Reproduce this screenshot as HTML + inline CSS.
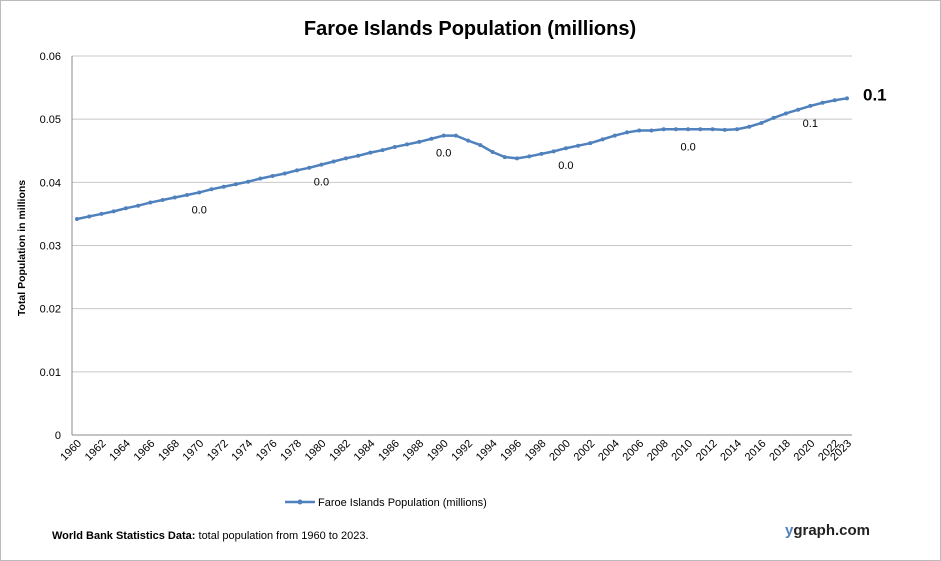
<!DOCTYPE html>
<html><head><meta charset="utf-8"><style>
body{margin:0;background:#fff;font-family:"Liberation Sans",sans-serif}
svg{display:block}
</style></head><body>
<svg width="941" height="561" xmlns="http://www.w3.org/2000/svg">
<rect x="0.5" y="0.5" width="940" height="560" fill="#fff" stroke="#bbb"/>
<text x="470" y="35" text-anchor="middle" font-size="20" font-weight="bold" fill="#000">Faroe Islands Population (millions)</text>
<g id="grid"></g>
<g id="axes"></g>
<text transform="translate(25,248) rotate(-90)" text-anchor="middle" font-size="10.5" font-weight="bold">Total Population  in millions</text>
<g id="series"></g>
<g>
<line x1="285" y1="502" x2="315" y2="502" stroke="#4f81bd" stroke-width="2.5"/>
<circle cx="300" cy="502" r="2.5" fill="#4f81bd"/>
<text x="318" y="506" font-size="11">Faroe Islands Population (millions)</text>
</g>
<text x="52" y="539" font-size="11"><tspan font-weight="bold">World Bank Statistics Data:</tspan> total population from 1960 to 2023.</text>
<text x="785" y="535" font-size="15" font-weight="bold" fill="#222"><tspan fill="#4f81bd">y</tspan>graph.com</text>
</svg>
<script>
const years=[];for(let y=1960;y<=2023;y++)years.push(y);
const values=[.0342,.0346,.0350,.0354,.0359,.0363,.0368,.0372,.0376,.0380,
.0384,.0389,.0393,.0397,.0401,.0406,.0410,.0414,.0419,.0423,
.0428,.0433,.0438,.0442,.0447,.0451,.0456,.0460,.0464,.0469,
.0474,.0474,.0466,.0459,.0448,.0440,.0438,.0441,.0445,.0449,
.0454,.0458,.0462,.0468,.0474,.0479,.0482,.0482,.0484,.0484,
.0484,.0484,.0484,.0483,.0484,.0488,.0494,.0502,.0509,.0515,
.0521,.0526,.0530,.0533];
const yTicks=[0,0.01,0.02,0.03,0.04,0.05,0.06];
const yTickLabels=["0","0.01","0.02","0.03","0.04","0.05","0.06"];
const labelYears=[1970,1980,1990,2000,2010,2020];
const labelTexts=["0.0","0.0","0.0","0.0","0.0","0.1"];
const NS="http://www.w3.org/2000/svg";
const L=72,R=852,T=56,B=435;
const xs=y=>L+5+(y-1960)*(R-L-10)/63;
const ys=v=>B-(v/0.06)*(B-T);
function mk(t,a,p){const e=document.createElementNS(NS,t);for(const k in a)e.setAttribute(k,a[k]);p.appendChild(e);return e;}
const grid=document.getElementById('grid'),axes=document.getElementById('axes'),ser=document.getElementById('series');
yTicks.forEach((v,i)=>{
 const l=mk('line',{x1:L,x2:R,y1:ys(v),y2:ys(v),stroke:'#c8c8c8'},grid);
 
 
 const t=mk('text',{x:L-11,y:ys(v)+4,'text-anchor':'end','font-size':11},axes);t.textContent=yTickLabels[i];
 
 
});
mk('line',{x1:L,x2:L,y1:T,y2:B,stroke:'#888'},axes);
mk('line',{x1:L,x2:R,y1:B,y2:B,stroke:'#888'},axes);
years.forEach(y=>{
 if(y%2===0||y===2023){
  const t=mk('text',{transform:`translate(${xs(y)+5},${B+9}) rotate(-45)`,'text-anchor':'end','font-size':11},axes);
  t.textContent=y;
  
  
 }
});
const pts=years.map((y,i)=>xs(y)+','+ys(values[i])).join(' ');
const pl=mk('polyline',{points:pts,fill:'none',stroke:'#4f81bd','stroke-width':2.5},ser);


years.forEach((y,i)=>{
 const c=mk('circle',{cx:xs(y),cy:ys(values[i]),r:2,fill:'#4f81bd'},ser);
 
 
});
labelYears.forEach((y,i)=>{
 const v=values[y-1960];
 const t=mk('text',{x:xs(y),y:ys(v)+21,'text-anchor':'middle','font-size':11},ser);t.textContent=labelTexts[i];
 
 
});
const last=mk('text',{x:863,y:ys(values[values.length-1])+2,'font-size':17,'font-weight':'bold'},ser);
last.textContent='0.1';


</script>
</body></html>
